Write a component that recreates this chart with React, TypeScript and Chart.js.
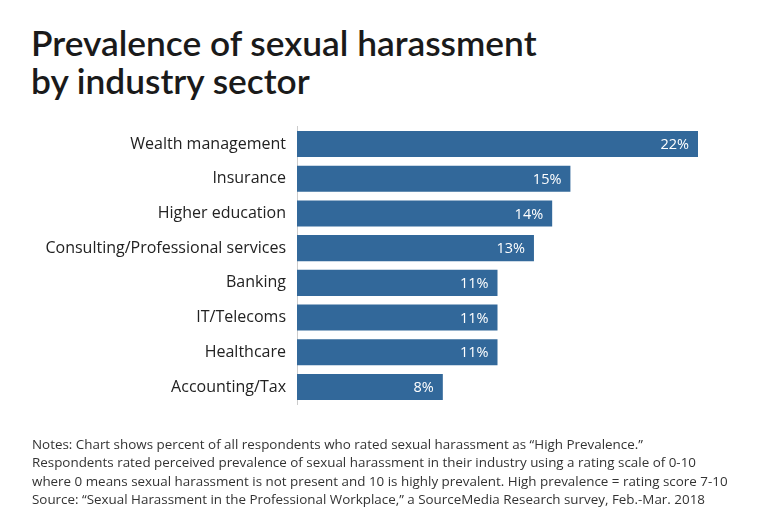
import React, { useEffect, useRef } from "react";
import { Chart, registerables } from "chart.js";

Chart.register(...registerables);

const categories = [
  "Wealth management",
  "Insurance",
  "Higher education",
  "Consulting/Professional services",
  "Banking",
  "IT/Telecoms",
  "Healthcare",
  "Accounting/Tax",
];
const values = [22, 15, 14, 13, 11, 11, 11, 8];
const valueLabels = ["22%", "15%", "14%", "13%", "11%", "11%", "11%", "8%"];

const titleLines = ["Prevalence of sexual harassment", "by industry sector"];
const noteLines = [
  "Notes: Chart shows percent of all respondents who rated sexual harassment as \u201cHigh Prevalence.\u201d",
  "Respondents rated perceived prevalence of sexual harassment in their industry using a rating scale of 0-10",
  "where 0 means sexual harassment is not present and 10 is highly prevalent. High prevalence = rating score 7-10",
  "Source: \u201cSexual Harassment in the Professional Workplace,\u201d a SourceMedia Research survey, Feb.-Mar. 2018",
];

const BAR_COLOR = "#32689a";
const TITLE_FONT = "Lato, 'Noto Sans', sans-serif";
const FONT = "'Open Sans', 'Noto Sans', sans-serif";

const valueLabelPlugin = {
  id: "valueLabels",
  afterDatasetsDraw(chart: any) {
    const ctx = chart.ctx;
    const meta = chart.getDatasetMeta(0);
    ctx.save();
    ctx.fillStyle = "#ffffff";
    ctx.font = `14.5px ${FONT}`;
    ctx.textAlign = "right";
    ctx.textBaseline = "middle";
    meta.data.forEach((bar: any, i: number) => {
      ctx.fillText(valueLabels[i], bar.x - 9, bar.y + 1);
    });
    ctx.restore();
  },
};

export default function App() {
  const canvasRef = useRef<HTMLCanvasElement>(null);

  useEffect(() => {
    if (!canvasRef.current) return;
    const chart = new Chart(canvasRef.current, {
      type: "bar",
      data: {
        labels: categories,
        datasets: [
          {
            data: values,
            backgroundColor: BAR_COLOR,
            borderWidth: 0,
            barPercentage: 0.75,
            categoryPercentage: 1,
          },
        ],
      },
      options: {
        indexAxis: "y",
        animation: false,
        responsive: false,
        maintainAspectRatio: false,
        layout: { padding: { top: 126.6, bottom: 123.6, right: 70, left: 0 } },
        plugins: {
          legend: { display: false },
          title: { display: false },
          tooltip: { enabled: false },
        },
        scales: {
          x: { display: false, min: 0, max: 22 },
          y: {
            afterFit(scale: any) {
              scale.width = 297;
            },
            grid: { display: false, drawTicks: false },
            border: { display: true, color: "#cccccc", width: 1 },
            ticks: {
              padding: 11,
              color: "#222222",
              font: { family: FONT, size: 16 },
            },
          },
        },
      },
      plugins: [valueLabelPlugin],
    });
    return () => chart.destroy();
  }, []);

  return (
    <div style={{ position: "relative", width: 768, height: 528, margin: -8, background: "#fff", overflow: "hidden" }}>
      <div
        style={{
          position: "absolute",
          left: 31,
          top: 24,
          fontFamily: TITLE_FONT,
          fontWeight: 600,
          fontSize: 35.3,
          lineHeight: "38px",
          color: "#1a1a1a",
          whiteSpace: "nowrap",
        }}
      >
        {titleLines.map((l, i) => (
          <div key={i}>{l}</div>
        ))}
      </div>
      <canvas ref={canvasRef} width={768} height={528} style={{ position: "absolute", left: 0, top: 0 }} />
      <div
        style={{
          position: "absolute",
          left: 32,
          top: 435,
          fontFamily: FONT,
          fontSize: 13.4,
          lineHeight: "18.3px",
          color: "#333333",
          whiteSpace: "nowrap",
        }}
      >
        {noteLines.map((l, i) => (
          <div key={i}>{l}</div>
        ))}
      </div>
    </div>
  );
}
